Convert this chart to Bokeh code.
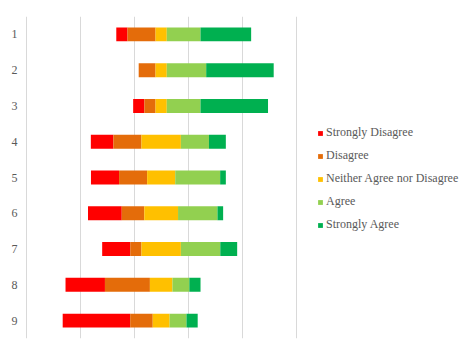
import numpy as np
from bokeh.plotting import figure
from bokeh.models import ColumnDataSource, Range1d, FixedTicker, Legend, LegendItem
from bokeh.embed import file_html
from bokeh.resources import INLINE

questions = [1, 2, 3, 4, 5, 6, 7, 8, 9]
categories = ["Strongly Disagree", "Disagree", "Neither Agree nor Disagree", "Agree", "Strongly Agree"]
# percentages of respondents
strongly_disagree = [8.3, 0.0, 8.3, 16.7, 20.8, 25.0, 20.8, 29.2, 50.0]
disagree = [20.8, 12.5, 8.3, 20.8, 20.8, 16.7, 8.3, 33.3, 16.7]
neither = [8.3, 8.3, 8.3, 29.2, 20.8, 25.0, 29.2, 16.7, 12.5]
agree = [25.0, 29.2, 25.0, 20.8, 33.3, 29.2, 29.2, 12.5, 12.5]
strongly_agree = [37.5, 50.0, 50.0, 12.5, 4.2, 4.2, 12.5, 8.3, 8.3]
colors = ["#FF0000", "#E46C0A", "#FFC000", "#92D050", "#00B050"]
grid_ticks = [0, 40, 80, 120, 160, 200]
center = 100

series = [np.array(s) for s in (strongly_disagree, disagree, neither, agree, strongly_agree)]
offset = center - (series[0] + series[1] + series[2] / 2.0)

p = figure(width=474, height=354, output_backend="svg", toolbar_location=None,
           x_range=Range1d(-0.5, 332.1), y_range=Range1d(9.5, 0.5),
           min_border_left=25, min_border_right=0, min_border_top=16, min_border_bottom=16)
p.outline_line_color = None
p.background_fill_color = "white"
p.border_fill_color = "white"

p.xaxis.visible = False
p.xgrid.ticker = FixedTicker(ticks=grid_ticks)
p.xgrid.grid_line_color = "#D9D9D9"
p.xgrid.grid_line_width = 1
p.ygrid.grid_line_color = None

p.yaxis.ticker = FixedTicker(ticks=questions)
p.yaxis.major_label_overrides = {q: str(q) for q in questions}
p.yaxis.axis_line_color = None
p.yaxis.major_tick_line_color = None
p.yaxis.minor_tick_line_color = None
p.yaxis.major_tick_out = 0
p.yaxis.major_tick_in = 0
p.yaxis.major_label_standoff = 8
p.yaxis.major_label_text_font = "Liberation Serif"
p.yaxis.major_label_text_font_size = "12px"
p.yaxis.major_label_text_color = "#595959"

items = []
left = offset.copy()
for name, vals, col in zip(categories, series, colors):
    src = ColumnDataSource(dict(y=questions, left=left, right=left + vals))
    r = p.hbar(y="y", left="left", right="right", height=0.39, source=src,
               fill_color=col, line_color=None)
    items.append(LegendItem(label=name, renderers=[r]))
    left = left + vals

legend = Legend(items=items, location=(292, 106), padding=0, margin=0,
                spacing=8, glyph_width=6, glyph_height=6, label_height=13,
                label_standoff=3, label_text_font="Liberation Serif",
                label_text_font_size="12px", label_text_color="#595959",
                border_line_color=None, background_fill_alpha=0)
p.add_layout(legend, "center")

open("out.html", "w").write(file_html(p, INLINE))
